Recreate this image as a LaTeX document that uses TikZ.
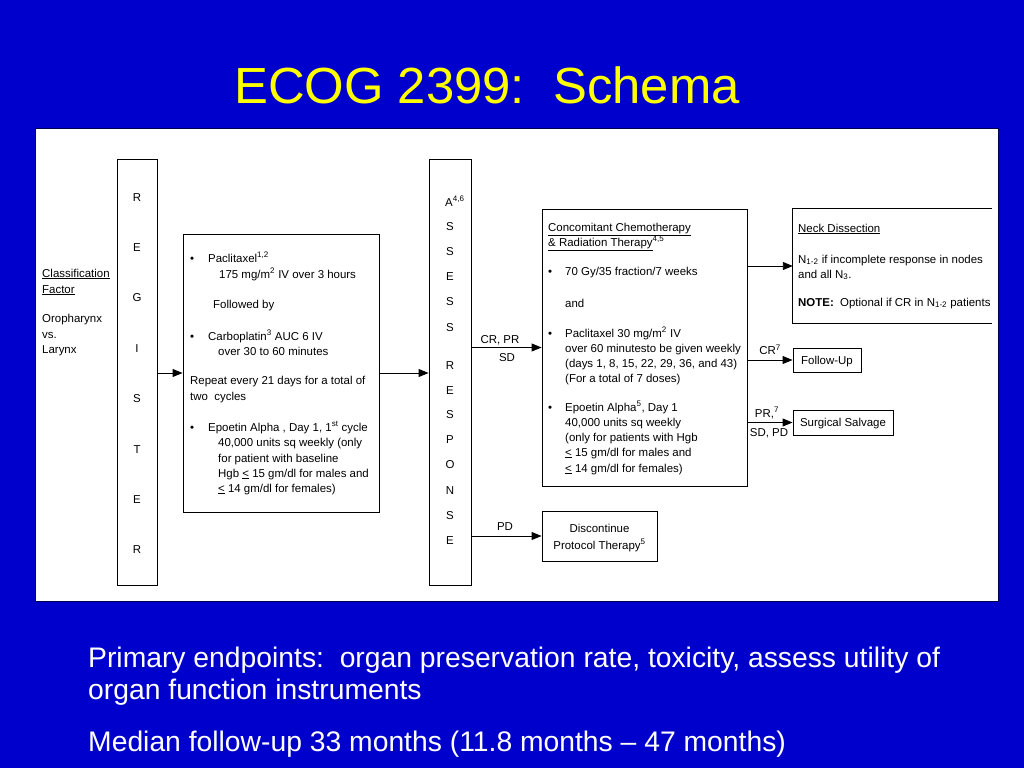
\documentclass[tikz,border=0pt]{standalone}
\usepackage{fontspec}
\setmainfont{Liberation Sans}
\usetikzlibrary{arrows.meta}
\definecolor{bgblue}{RGB}{0,0,204}
\definecolor{ttlyellow}{RGB}{255,255,0}
\begin{document}
\begin{tikzpicture}[x=1bp,y=-1bp,
  box/.style={draw=black, line width=0.9bp, fill=white, inner sep=0pt},
  txt/.style={anchor=base west, inner sep=0pt, font=\fontsize{11.5}{13}\selectfont},
  ctxt/.style={anchor=center, inner sep=0pt, font=\fontsize{11.5}{13}\selectfont},
  arr/.style={line width=0.9bp, -{Triangle[length=10bp,width=8bp]}},
  bottomtxt/.style={anchor=base west, inner sep=0pt, text=white, font=\fontsize{28.4}{32}\selectfont}]
\useasboundingbox[fill=bgblue] (0,0) rectangle (1024,768);
% title
\node[text=ttlyellow, font=\fontsize{51}{60}\selectfont, inner sep=0pt] (title) at (487,85) {ECOG 2399:\ \ Schema};
% white panel
\node[fill=white, draw=black!70!blue, line width=0.8bp, minimum width=963bp, minimum height=473bp, inner sep=0pt] (panel) at (516.5,364.5) {};
% classification
\node[txt] (c1) at (42,277) {\underline{Classification}};
\node[txt] (c2) at (42,293) {\underline{Factor}};
\node[txt] (c3) at (42,322) {Oropharynx};
\node[txt] (c4) at (42,338) {vs.};
\node[txt] (c5) at (42,353) {Larynx};
% register box
\node[box, minimum width=40bp, minimum height=426bp] (reg) at (137,372) {};
\node[ctxt] (r1) at (137,198) {R};
\node[ctxt] (r2) at (137,248) {E};
\node[ctxt] (r3) at (137,298) {G};
\node[ctxt] (r4) at (137,349) {I};
\node[ctxt] (r5) at (137,399) {S};
\node[ctxt] (r6) at (137,450) {T};
\node[ctxt] (r7) at (137,500) {E};
\node[ctxt] (r8) at (137,550) {R};
% box 1
\node[box, minimum width=196bp, minimum height=278bp] (b1) at (281,373) {};
\node[txt] (b1a) at (190,262) {\textbullet};
\node[txt] (b1b) at (208,262) {Paclitaxel\textsuperscript{1,2}};
\node[txt] (b1c) at (219,278) {175 mg/m\textsuperscript{2} IV over 3 hours};
\node[txt] (b1d) at (213,308) {Followed by};
\node[txt] (b1e) at (190,340) {\textbullet};
\node[txt] (b1f) at (208,340) {Carboplatin\textsuperscript{3} AUC 6 IV};
\node[txt] (b1g) at (218,355) {over 30 to 60 minutes};
\node[txt] (b1h) at (190,384) {Repeat every 21 days for a total of};
\node[txt] (b1i) at (190,400) {two\ \ cycles};
\node[txt] (b1j) at (190,431) {\textbullet};
\node[txt] (b1k) at (208,431) {Epoetin Alpha , Day 1, 1\textsuperscript{st} cycle};
\node[txt] (b1l) at (218,446) {40,000 units sq weekly (only};
\node[txt] (b1m) at (218,462) {for patient with baseline};
\node[txt] (b1n) at (218,477) {Hgb \underline{<} 15 gm/dl for males and};
\node[txt] (b1o) at (218,492) {\underline{<} 14 gm/dl for females)};
% assess box
\node[box, minimum width=42bp, minimum height=426bp] (ass) at (450,372) {};
\node[txt] (a1) at (445,206) {A\textsuperscript{4,6}};
\node[ctxt] (a2) at (450,227) {S};
\node[ctxt] (a3) at (450,252) {S};
\node[ctxt] (a4) at (450,277) {E};
\node[ctxt] (a5) at (450,302) {S};
\node[ctxt] (a6) at (450,328) {S};
\node[ctxt] (a7) at (450,366) {R};
\node[ctxt] (a8) at (450,391) {E};
\node[ctxt] (a9) at (450,415) {S};
\node[ctxt] (a10) at (450,440) {P};
\node[ctxt] (a11) at (450,465) {O};
\node[ctxt] (a12) at (450,491) {N};
\node[ctxt] (a13) at (450,516) {S};
\node[ctxt] (a14) at (450,541) {E};
% chemo box
\node[box, minimum width=205bp, minimum height=277bp] (chemo) at (644.5,347.5) {};
\node[txt] (h1) at (548,231) {\underline{Concomitant Chemotherapy}};
\node[txt] (h2) at (548,246) {\underline{\& Radiation Therapy}\textsuperscript{4,5}};
\node[txt] (h3) at (548,275) {\textbullet};
\node[txt] (h4) at (565,275) {70 Gy/35 fraction/7 weeks};
\node[txt] (h5) at (565,307) {and};
\node[txt] (h6) at (548,337) {\textbullet};
\node[txt] (h7) at (565,337) {Paclitaxel 30 mg/m\textsuperscript{2} IV};
\node[txt] (h8) at (565,352) {over 60 minutesto be given weekly};
\node[txt] (h9) at (565,367) {(days 1, 8, 15, 22, 29, 36, and 43)};
\node[txt] (h10) at (565,382) {(For a total of 7 doses)};
\node[txt] (h11) at (548,411) {\textbullet};
\node[txt] (h12) at (565,411) {Epoetin Alpha\textsuperscript{5}, Day 1};
\node[txt] (h13) at (565,426) {40,000 units sq weekly};
\node[txt] (h14) at (565,441) {(only for patients with Hgb};
\node[txt] (h15) at (565,456) {\underline{<} 15 gm/dl for males and};
\node[txt] (h16) at (565,472) {\underline{<} 14 gm/dl for females)};
% discontinue box
\node[box, minimum width=115bp, minimum height=50bp] (disc) at (599.5,536) {};
\node[ctxt] (d1) at (599.5,528) {Discontinue};
\node[txt, anchor=base] (d2) at (599.5,549) {Protocol Therapy\textsuperscript{5}};
% neck dissection box (right side cut off)
\node[fill=white, minimum width=199bp, minimum height=114bp, inner sep=0pt] (neck) at (892.5,266) {};
\draw[line width=0.9bp] (neck.north east) -- (neck.north west) -- (neck.south west) -- (neck.south east);
\node[txt] (n1) at (798,232) {\underline{Neck Dissection}};
\node[txt] (n2) at (798,263) {N\textsubscript{1-2} if incomplete response in nodes};
\node[txt] (n3) at (798,278) {and all N\textsubscript{3}.};
\node[txt] (n4) at (798,306) {\textbf{NOTE:}\ \ Optional if CR in N\textsubscript{1-2} patients};
% follow-up and surgical salvage
\node[box, minimum width=68bp, minimum height=24bp, text height=8.2bp, text depth=0bp, font=\fontsize{11.5}{13}\selectfont] (fu) at (827,360) {Follow-Up};
\node[box, minimum width=100bp, minimum height=25bp, text height=8.2bp, text depth=0bp, font=\fontsize{11.5}{13}\selectfont] (surg) at (843,422.5) {Surgical Salvage};
% connectors
\draw[arr] (reg.east |- b1.west) -- (b1.west);
\draw[arr] (b1.east) -- (b1.east -| ass.west);
\draw[arr] (ass.east |- chemo.west) -- (chemo.west);
\draw[arr] (ass.east |- disc.west) -- (disc.west);
\draw[arr] (chemo.east |- neck.west) -- (neck.west);
\draw[arr] (chemo.east |- fu.west) -- (fu.west);
\draw[arr] (chemo.east |- surg.west) -- (surg.west);
% connector labels
\node[ctxt] (l1) at (500,340) {CR, PR};
\node[ctxt] (l2) at (507,358) {SD};
\node[ctxt] (l3) at (505,527) {PD};
\node[ctxt] (l4) at (770,350) {CR\textsuperscript{7}};
\node[ctxt] (l5) at (767,413) {PR,\textsuperscript{7}};
\node[ctxt] (l6) at (769,433) {SD, PD};
% bottom text
\node[bottomtxt] (t1) at (88,667) {Primary endpoints:\ \ organ preservation rate, toxicity, assess utility of};
\node[bottomtxt] (t2) at (88,699) {organ function instruments};
\node[bottomtxt] (t3) at (88,751) {Median follow-up 33 months (11.8 months – 47 months)};
\end{tikzpicture}
\end{document}
